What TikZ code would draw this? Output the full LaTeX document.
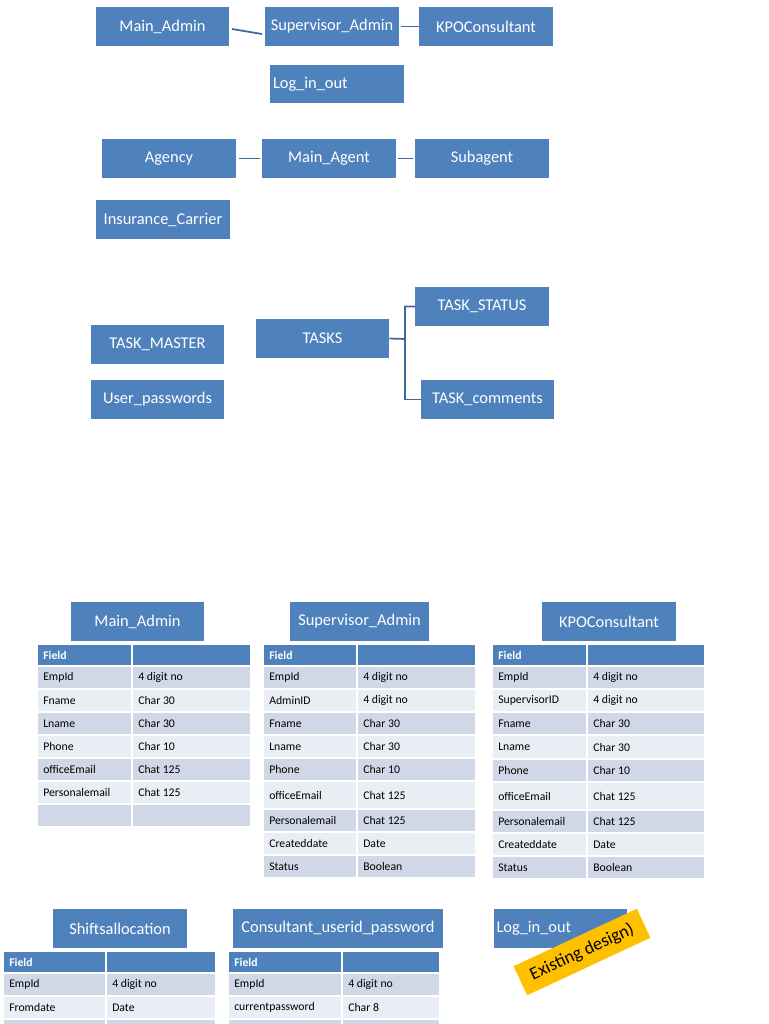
\documentclass[tikz,border=0pt]{standalone}
\usepackage{fontspec}
\setmainfont{Carlito}
\usetikzlibrary{positioning}
\definecolor{boxblue}{HTML}{4F81BD}
\definecolor{rowdark}{HTML}{D0D8E8}
\definecolor{rowlight}{HTML}{E9EDF4}
\definecolor{tagyellow}{HTML}{FFC000}

% one table row: x0, xsplit, x1, ytop, ybottom, fill, field, type
\newcommand\trow[8]{%
  \filldraw[fill=#6,draw=white,line width=1.2pt] (#1,#4) rectangle (#2,#5);
  \filldraw[fill=#6,draw=white,line width=1.2pt] (#2,#4) rectangle (#3,#5);
  \node[cell] at (#1+6,{(#4+#5)/2}) {#7};
  \node[cell] at (#2+6,{(#4+#5)/2}) {#8};
}

\begin{document}
\begin{tikzpicture}[x=0.75pt,y=-0.75pt]
    \tikzset{
      box/.style={
        fill=boxblue,
        text=white,
        minimum width=100pt,
        minimum height=29pt,
        inner sep=0mm,
        font=\fontsize{12.3}{14}\selectfont
      },
      cell/.style={
        anchor=west,
        inner sep=0mm,
        font=\fontsize{8.8}{10}\selectfont
      },
      head/.style={cell,text=white,font=\fontsize{8.8}{10}\selectfont\bfseries},
      link/.style={draw=boxblue!80!black,line width=1.3pt}
    }
    \useasboundingbox (0,0) rectangle (768,1024);

    %Admin group
    \node[box] at (162.5,26.5) (madmin) {Main\_Admin};
    \node[box] at (332,26.5) (sadmin) {Supervisor\_Admin};
    \node[box] at (486,26.5) (kpo) {KPOConsultant};
    \node[box,text width=96pt] at (337,84) (login) {Log\_in\_out};
    \draw[link] (232,29) -- (262,34);
    \draw[link] (sadmin.east) ++(2,0) -- (kpo.west);

    %Agent group
    \node[box] at (169,158.5) (agency) {Agency};
    \node[box] at (329,158.5) (magent) {Main\_Agent};
    \node[box] at (482,158.5) (subagent) {Subagent};
    \node[box] at (163,219.5) (carrier) {Insurance\_Carrier};
    \draw[link] (agency.east) ++(3,0) -- ++(21,0);
    \draw[link] (magent.east) ++(2,0) -- ++(15,0);

    %Task group
    \node[box] at (157.5,344.5) (tmaster) {TASK\_MASTER};
    \node[box] at (157.5,399.5) (upass) {User\_passwords};
    \node[box] at (322.5,338.5) (tasks) {TASKS};
    \node[box] at (482,306.5) (tstatus) {TASK\_STATUS};
    \node[box] at (487.5,399.5) (tcomments) {TASK\_comments};
    \coordinate (tfork) at (405,339);
    \draw[link] (tasks.east) -- (tfork) |- (tstatus.west);
    \draw[link] (tfork) |- (tcomments.west);

    %Table titles
    \node[box] at (137.5,621.5) (tmadmin) {Main\_Admin};
    \node[box,minimum width=104pt] at (359.5,621.5) (tsadmin) {Supervisor\_Admin};
    \node[box] at (609,621.5) (tkpo) {KPOConsultant};
    \node[box] at (120,928.5) (tshift) {Shiftsallocation};
    \node[box,minimum width=157pt] at (338,928.5) (tcons) {Consultant\_userid\_password};
    \node[box,text width=96pt] at (560.5,928.5) (tlog) {Log\_in\_out};

    %Main_Admin table
    \trow{37}{132}{251}{644}{666}{boxblue}{}{}
    \node[head] at (43,655) {Field};
    \foreach \a/\b/\yt/\yb/\c in {EmpId/4 digit no/666/689/rowdark,
        Fname/Char 30/689/712/rowlight, Lname/Char 30/712/735/rowdark,
        Phone/Char 10/735/758/rowlight, officeEmail/Chat 125/758/781/rowdark,
        Personalemail/Chat 125/781/804/rowlight, /\ /804/827/rowdark}
      {\trow{37}{132}{251}{\yt}{\yb}{\c}{\a}{\b}}

    %Supervisor_Admin table
    \trow{263}{357}{476}{644}{666}{boxblue}{}{}
    \node[head] at (269,655) {Field};
    \foreach \a/\b/\yt/\yb/\c in {EmpId/4 digit no/666/689/rowdark,
        AdminID/4 digit no/689/712/rowlight, Fname/Char 30/712/735/rowdark,
        Lname/Char 30/735/758/rowlight, Phone/Char 10/758/781/rowdark,
        officeEmail/Chat 125/781/809/rowlight}
      {\trow{263}{357}{476}{\yt}{\yb}{\c}{\a}{\b}}
    \foreach \a/\b/\yt/\yb/\c in {Personalemail/Chat 125/809/832/rowdark,
        Createddate/Date/832/855/rowlight, Status/Boolean/855/878/rowdark}
      {\trow{263}{357}{476}{\yt}{\yb}{\c}{\a}{\b}}

    %KPOConsultant table
    \trow{492}{587}{705}{644}{666}{boxblue}{}{}
    \node[head] at (498,655) {Field};
    \foreach \a/\b/\yt/\yb/\c in {EmpId/4 digit no/666/689/rowdark,
        SupervisorID/4 digit no/689/712/rowlight, Fname/Char 30/712/735/rowdark,
        Lname/Char 30/735/759/rowlight, Phone/Char 10/759/782/rowdark,
        officeEmail/Chat 125/782/810/rowlight}
      {\trow{492}{587}{705}{\yt}{\yb}{\c}{\a}{\b}}
    \foreach \a/\b/\yt/\yb/\c in {Personalemail/Chat 125/810/833/rowdark,
        Createddate/Date/833/856/rowlight, Status/Boolean/856/879/rowdark}
      {\trow{492}{587}{705}{\yt}{\yb}{\c}{\a}{\b}}

    %Shiftsallocation table
    \trow{3}{106}{216}{951}{973}{boxblue}{}{}
    \node[head] at (9,962) {Field};
    \trow{3}{106}{216}{973}{996}{rowdark}{EmpId}{4 digit no}
    \trow{3}{106}{216}{996}{1019}{rowlight}{Fromdate}{Date}
    \trow{3}{106}{216}{1019}{1030}{rowdark}{}{}

    %Consultant_userid_password table
    \trow{228}{342}{440}{951}{973}{boxblue}{}{}
    \node[head] at (234,962) {Field};
    \trow{228}{342}{440}{973}{996}{rowdark}{EmpId}{4 digit no}
    \trow{228}{342}{440}{996}{1019}{rowlight}{currentpassword}{Char 8}
    \trow{228}{342}{440}{1019}{1030}{rowdark}{}{}

    %Note tag
    \node[fill=tagyellow,rotate=25,minimum width=102pt,minimum height=24pt,
      inner sep=0mm,font=\fontsize{13.5}{15}\selectfont] at (582,952) (tag) {Existing design)};
\end{tikzpicture}
\end{document}
